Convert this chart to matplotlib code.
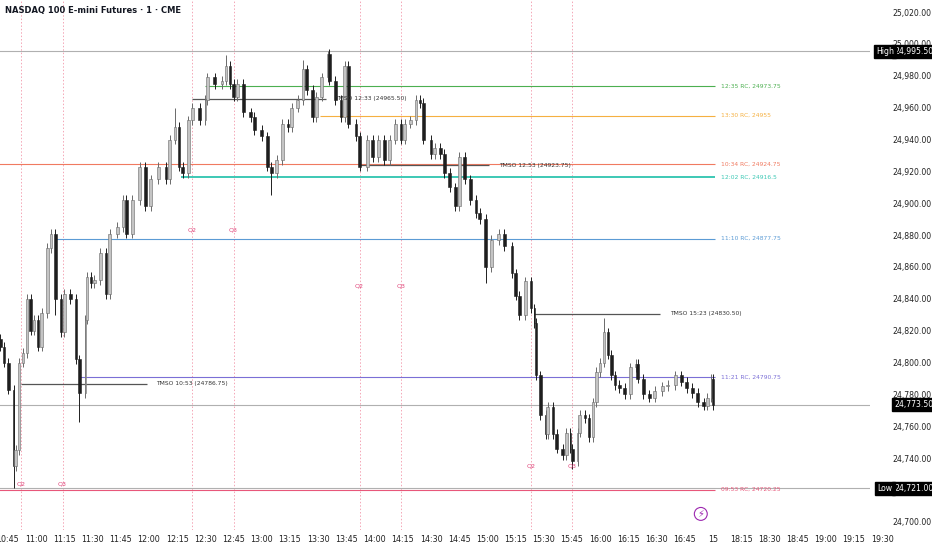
import matplotlib
matplotlib.use("Agg")
import matplotlib.pyplot as plt
import matplotlib.transforms as mtransforms
import numpy as np

# minutes since 10:45 (session gap 17:00-18:00 removed) and candle closes
bar_t = [-4, -2, 0, 3, 4, 6, 8, 10, 12, 14, 16, 18, 21, 23, 25, 28, 30, 33, 36, 38,
         41, 42, 44, 46, 49, 52, 54, 58, 61, 63, 66, 70, 73, 76, 80, 84, 86, 89, 91, 93,
         96, 98, 102, 105, 106, 110, 114, 116, 118, 120, 122, 125, 129, 131, 135, 138, 140, 143, 146, 149,
         151, 154, 157, 159, 162, 164, 167, 170, 171, 174, 177, 179, 181, 185, 187, 191, 194, 197, 200, 203,
         206, 209, 211, 214, 217, 219, 221, 225, 227, 230, 232, 235, 238, 240, 243, 246, 249, 251, 254, 257,
         261, 264, 268, 270, 272, 275, 278, 280, 281, 283, 286, 287, 290, 292, 295, 297, 299, 300, 303, 304,
         307, 309, 311, 313, 315, 317, 319, 321, 323, 325, 328, 331, 334, 335, 338, 341, 344, 348, 351, 355,
         358, 361, 364, 367, 370, 372, 374, 375]
bar_close = [24810, 24800, 24783, 24735, 24745, 24800, 24806, 24840, 24820, 24827, 24810, 24831, 24872, 24881, 24840, 24819, 24843, 24840, 24802, 24781,
             24827, 24854, 24850, 24852, 24869, 24843, 24881, 24885, 24902, 24881, 24902, 24923, 24898, 24915, 24923, 24915, 24940, 24948, 24923, 24919,
             24952, 24960, 24952, 24965, 24979, 24975, 24977, 24986, 24975, 24967, 24975, 24957, 24954, 24946, 24942, 24923, 24919, 24927, 24950, 24948,
             24960, 24965, 24984, 24971, 24954, 24967, 24979, 24994, 24977, 24965, 24954, 24986, 24950, 24942, 24923, 24940, 24929, 24940, 24927, 24940,
             24950, 24940, 24950, 24952, 24965, 24963, 24940, 24931, 24935, 24931, 24919, 24910, 24898, 24929, 24915, 24902, 24894, 24890, 24860, 24877,
             24881, 24873, 24856, 24842, 24830, 24851, 24834, 24825, 24792, 24767, 24755, 24772, 24755, 24746, 24742, 24756, 24746, 24738, 24756, 24767,
             24765, 24753, 24775, 24794, 24800, 24819, 24805, 24792, 24786, 24784, 24780, 24797, 24799, 24790, 24780, 24778, 24782, 24785, 24786, 24792,
             24788, 24784, 24781, 24775, 24773, 24778, 24790, 24773.5]
# notable wick extremes
wick_high = {170: 24995.5, 116: 24993, 317: 24828, 89: 24960, 157: 24990}
wick_low = {3: 24721, 38: 24763, 140: 24905, 300: 24733, 254: 24850, 25: 24830}

# levels: (price, start t, colour, label)
rc_levels = [
    (24973.75, 105, "#4caf50", "12:35 RC, 24973.75"),
    (24955, 166, "#f5b041", "13:30 RC, 24955"),
    (24924.75, -5, "#f07a60", "10:34 RC, 24924.75"),
    (24916.5, 92, "#3cc8b4", "12:02 RC, 24916.5"),
    (24877.75, 25, "#5b9bd5", "11:10 RC, 24877.75"),
    (24790.75, 38, "#7b6fd6", "11:21 RC, 24790.75"),
    (24720.25, -5, "#e8577a", "09:53 RC, 24720.25"),
]
tmso_levels = [
    (24965.50, 98, 169, "TMSO 12:33 (24965.50)"),
    (24786.75, 7, 74, "TMSO 10:53 (24786.75)"),
    (24923.75, 187, 256, "TMSO 12:53 (24923.75)"),
    (24830.50, 280, 347, "TMSO 15:23 (24830.50)"),
]
q_marks = [(7, 29, 24724), (98, 120, 24883), (187, 209, 24848), (278, 300, 24735)]
high_price, low_price, last_price = 24995.50, 24721.00, 24773.50
price_ticks = [p for p in range(24700, 25021, 20) if p != 24720]

fig = plt.figure(figsize=(9.32, 5.5), dpi=100)
ax = fig.add_axes([0, 20 / 550, 870 / 932, 530 / 550])
ax.set_xlim(-4.26, 458.5)
ax.set_ylim(24694.9, 25027.6)
for s in ax.spines.values():
    s.set_visible(False)
ax.set_xticks([])
ax.yaxis.tick_right()
ax.set_yticks(price_ticks)
ax.set_yticklabels([f"{p:,.2f}" for p in price_ticks], fontsize=5.6, color="#222222")
ax.tick_params(axis="y", length=0, pad=30)
for lbl in ax.get_yticklabels():
    lbl.set_horizontalalignment("center")

# Q vertical dotted lines
for t2, t3, ylab in q_marks:
    for tt, lab in ((t2, "Q2"), (t3, "Q3")):
        ax.axvline(tt, color="#f4a6b6", lw=0.7, ls=(0, (1.5, 2)), zorder=1)
        ax.text(tt, ylab, lab, color="#e0457a", fontsize=4.5, ha="center", va="center", zorder=5)

# full-width gray lines
for p in (high_price, low_price, last_price):
    ax.axhline(p, color="#b0b0b0", lw=0.8, zorder=1)

end_t = 376
for p, t0, col, lab in rc_levels:
    lw = 1.4 if col == "#3cc8b4" else 0.8
    ax.hlines(p, t0, end_t, color=col, lw=lw, zorder=2)
    ax.text(end_t + 3, p, lab, color=col, fontsize=4.3, va="center", zorder=5)
for p, t0, t1, lab in tmso_levels:
    ax.hlines(p, t0, t1, color="#555555", lw=0.9, zorder=2)
    ax.text(t1 + 5, p, lab, color="#333333", fontsize=4.3, va="center", zorder=5)

# candles
prev = bar_close[0] + 5
for i, (t, c) in enumerate(zip(bar_t, bar_close)):
    o = prev
    w = (bar_t[i + 1] - t if i + 1 < len(bar_t) else 1) * 0.6
    w = max(min(w, 1.6), 0.6)
    hi = wick_high.get(t, max(o, c) + 3)
    lo = wick_low.get(t, min(o, c) - 3)
    up = c >= o
    col = "#c4c4c4" if up else "#1e1e1e"
    ax.vlines(t, lo, hi, color="#6a6a6a" if up else "#1e1e1e", lw=0.7, zorder=3)
    ax.bar(t, max(abs(c - o), 0.4), bottom=min(o, c), width=w, color=col,
           edgecolor="#6a6a6a" if up else "#1e1e1e", lw=0.4, zorder=4)
    prev = c

# price labels on the axis
blend = mtransforms.blended_transform_factory(fig.transFigure, ax.transData)
for p, tag in ((high_price, "High"), (low_price, "Low"), (last_price, None)):
    ax.text(914 / 932, p, f"{p:,.2f}", transform=blend, fontsize=5.6, color="white",
            ha="center", va="center", zorder=6, clip_on=False,
            bbox=dict(boxstyle="square,pad=0.25", fc="black", ec="black"))
    if tag:
        ax.text(885 / 932, p, tag, transform=blend, fontsize=5.6, color="white",
                ha="center", va="center", zorder=6, clip_on=False,
                bbox=dict(boxstyle="square,pad=0.25", fc="black", ec="black"))

# time axis labels
tb = mtransforms.blended_transform_factory(ax.transData, fig.transFigure)
for k in range(32):
    t = k * 15
    if t > 470:
        break
    if t < 375:
        m = 10 * 60 + 45 + t
    elif t == 375:
        m = None
    else:
        m = 18 * 60 + 15 + (t - 390)
    lab = "15" if m is None else f"{m // 60}:{m % 60:02d}"
    ax.text(t, 10 / 550, lab, transform=tb, fontsize=5.8, color="#222222",
            ha="center", va="center", clip_on=False)

fig.text(5 / 932, 1 - 10 / 550, "NASDAQ 100 E-mini Futures · 1 · CME", fontsize=6,
         fontweight="bold", color="#131722", va="center")
ax.text(368.5, 24705, "⚡", fontsize=7, color="#9c27b0", ha="center", va="center",
        bbox=dict(boxstyle="circle,pad=0.15", fc="white", ec="#9c27b0", lw=0.8))

fig.savefig("out.png", dpi=100)
